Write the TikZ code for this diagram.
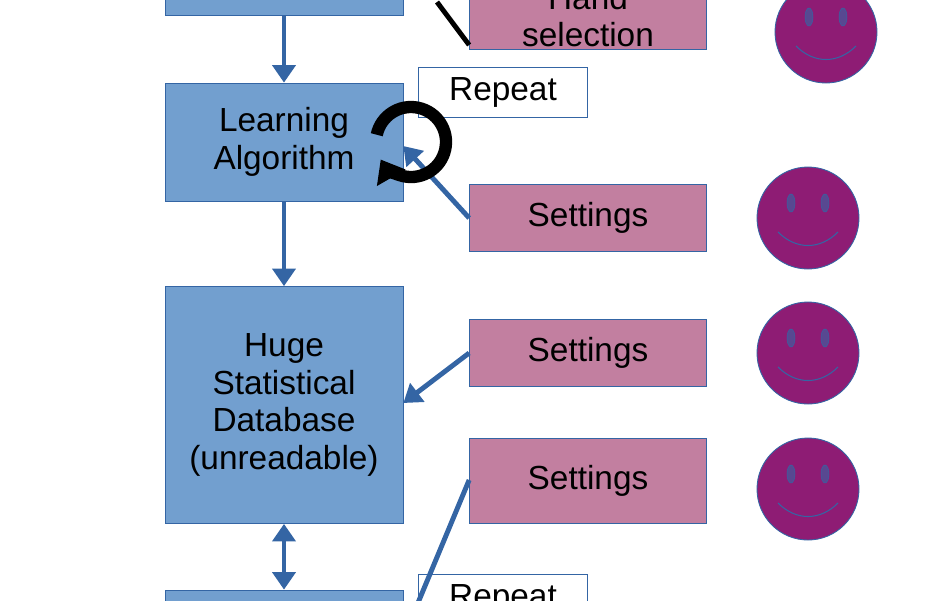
\documentclass[tikz,border=0pt]{standalone}
\usepackage{fontspec}
\setmainfont{Liberation Sans}
\usetikzlibrary{arrows.meta}

\definecolor{boxblue}{HTML}{729FCF}
\definecolor{lineblue}{HTML}{3465A4}
\definecolor{boxpink}{HTML}{C27FA0}
\definecolor{smile}{HTML}{8E1C74}

\tikzset{
  stage/.style={draw=lineblue, fill=boxblue, minimum width=238*0.02cm, align=center,
    font=\fontsize{19}{21.5}\selectfont, inner sep=0pt},
  setting/.style={draw=lineblue, fill=boxpink, minimum width=237*0.02cm, align=center,
    font=\fontsize{19}{21.5}\selectfont, inner sep=0pt},
  note/.style={draw=lineblue, fill=white, minimum width=169*0.02cm, minimum height=50*0.02cm,
    font=\fontsize{19}{21.5}\selectfont, inner sep=0pt},
  flow/.style={-{Triangle[length=10pt,width=13pt]}, lineblue, line width=2.8pt},
  face/.style={draw=lineblue, fill=smile, line width=0.5pt}
}

\begin{document}
\begin{tikzpicture}[x=0.02cm,y=-0.02cm]
\useasboundingbox (0,0) rectangle (937,600);
\clip (0,0) rectangle (937,600);

% stages
\node[stage, minimum height=95*0.02cm] (top) at (284,-32) {};
\node[stage, minimum height=118*0.02cm] (learn) at (284,142) {Learning\\Algorithm};
\node[stage, minimum height=237*0.02cm] (db) at (284,405) {Huge\\Statistical\\Database\\(unreadable)};
\node[stage, minimum height=100*0.02cm] (bottom) at (284,640) {};

% settings
\node[setting, minimum height=66*0.02cm] (hand) at (588,16) {Hand\\selection};
\node[setting, minimum height=67*0.02cm] (set1) at (588,218) {Settings};
\node[setting, minimum height=67*0.02cm] (set2) at (588,353) {Settings};
\node[setting, minimum height=85*0.02cm] (set3) at (588,481) {Settings};

% notes
\node[note] (rep1) at (503,92) {Repeat};
\node[note] (rep2) at (503,599) {Repeat};

% flow
\draw[flow] (top) -- (learn);
\draw[flow] (learn) -- (db);
\draw[flow, {Triangle[length=10pt,width=13pt]}-{Triangle[length=10pt,width=13pt]}] (db) -- (bottom);
\draw[flow] (set1.west) -- ([yshift=-4*0.02cm]learn.east);
\draw[flow] (set2.west) -- ([yshift=2*0.02cm]db.east);
\draw[lineblue, line width=2.8pt] ([yshift=1*0.02cm]set3.west) -- (415,610);
\draw[line width=2.8pt] (hand.west |- 0,45) -- (437,2);

% repeat loop
\draw[line width=7pt, -{Triangle[length=12pt,width=18pt]}] (411,142) ++(-168:35) arc[start angle=-168, end angle=150, radius=35];

% faces
\foreach \n/\cx/\cy in {f0/826/32, f1/808/218, f2/808/353, f3/808/489} {
  \node[face, circle, minimum size=102*0.02cm, inner sep=0pt] (\n) at (\cx,\cy) {};
  \fill[lineblue!60!smile, draw=lineblue, line width=0.3pt] (\cx-17,\cy-15) ellipse[x radius=4, y radius=9];
  \fill[lineblue!60!smile, draw=lineblue, line width=0.3pt] (\cx+17,\cy-15) ellipse[x radius=4, y radius=9];
  \draw[lineblue, line width=0.6pt] (\cx-30,\cy+14) .. controls (\cx-12,\cy+32) and (\cx+12,\cy+32) .. (\cx+30,\cy+14);
}
\end{tikzpicture}
\end{document}
